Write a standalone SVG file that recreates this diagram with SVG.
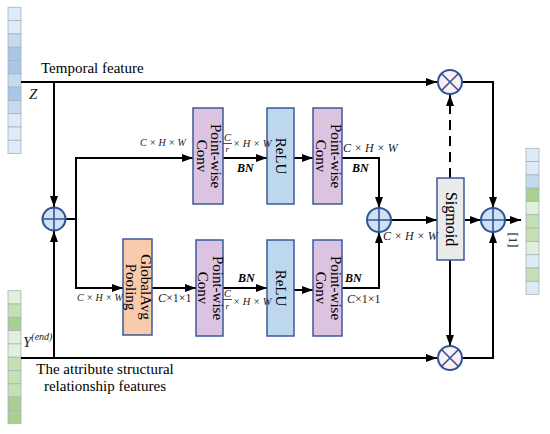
<svg xmlns="http://www.w3.org/2000/svg" width="550" height="434" viewBox="0 0 550 434" font-family="'Liberation Serif','Times New Roman','DejaVu Serif',serif">
<defs>
<marker id="ah" markerUnits="userSpaceOnUse" markerWidth="11" markerHeight="8" refX="11" refY="4" orient="auto"><path d="M0,0 L11,4 L0,8 z" fill="#000"/></marker>
<style>
.cell{stroke:#a9b4bf;stroke-width:0.8}
.b1{fill:#deebf7}.b2{fill:#c5d9ef}.b3{fill:#a8c7e7}
.g1{fill:#e2efda}.g2{fill:#c5e0b3}.g3{fill:#a9d08e}
.box{stroke:#3b5a99;stroke-width:1.5}
.pw{fill:#dcc3e1}.relu{fill:#bdd7ee}.pool{fill:#f8cbad}.sig{fill:#ebebeb}
.sum{fill:#cfe1f2;stroke:#2f5597;stroke-width:2}
.mul{fill:#fbeff3;stroke:#2f5597;stroke-width:2}
.sym{stroke:#2f5597;stroke-width:1.6;fill:none}
.ln{fill:none;stroke:#000;stroke-width:2}
text{font-family:'Liberation Serif','Times New Roman','DejaVu Serif',serif}
.t{fill:#000}
.bt{font-size:15px;fill:#000;text-anchor:middle}
.m{font-style:italic;fill:#222}
.bn{font-style:italic;font-weight:bold;font-size:12px;fill:#000}
</style>
</defs>

<!-- left input column Z -->
<g id="z-column">
<rect class="cell b1" x="8" y="7.3" width="13" height="13.3"/>
<rect class="cell b1" x="8" y="20.6" width="13" height="13.3"/>
<rect class="cell b2" x="8" y="33.9" width="13" height="13.3"/>
<rect class="cell b3" x="8" y="47.2" width="13" height="13.3"/>
<rect class="cell b3" x="8" y="60.5" width="13" height="13.3"/>
<rect class="cell b2" x="8" y="73.8" width="13" height="13.3"/>
<rect class="cell b3" x="8" y="87.1" width="13" height="13.3"/>
<rect class="cell b2" x="8" y="100.4" width="13" height="13.3"/>
<rect class="cell b1" x="8" y="113.7" width="13" height="13.3"/>
<rect class="cell b1" x="8" y="127" width="13" height="13.3"/>
<rect class="cell b1" x="8" y="140.3" width="13" height="13.3"/>
</g>

<!-- left input column Y -->
<g id="y-column">
<rect class="cell g1" x="8" y="290.7" width="13" height="13.3"/>
<rect class="cell g2" x="8" y="304" width="13" height="13.3"/>
<rect class="cell g3" x="8" y="317.3" width="13" height="13.3"/>
<rect class="cell g1" x="8" y="330.6" width="13" height="13.3"/>
<rect class="cell g1" x="8" y="343.9" width="13" height="13.3"/>
<rect class="cell g2" x="8" y="357.2" width="13" height="13.3"/>
<rect class="cell g2" x="8" y="370.5" width="13" height="13.3"/>
<rect class="cell g2" x="8" y="383.8" width="13" height="13.3"/>
<rect class="cell g3" x="8" y="397.1" width="13" height="13.3"/>
<rect class="cell g3" x="8" y="410.4" width="13" height="13.3"/>
</g>

<!-- output column -->
<g id="out-column">
<rect class="cell b1" x="526" y="148.3" width="13" height="13.3"/>
<rect class="cell b1" x="526" y="161.6" width="13" height="13.3"/>
<rect class="cell b2" x="526" y="174.9" width="13" height="13.3"/>
<rect class="cell g3" x="526" y="188.2" width="13" height="13.3"/>
<rect class="cell g1" x="526" y="201.5" width="13" height="13.3"/>
<rect class="cell g2" x="526" y="214.8" width="13" height="13.3"/>
<rect class="cell g2" x="526" y="228.1" width="13" height="13.3"/>
<rect class="cell g1" x="526" y="241.4" width="13" height="13.3"/>
<rect class="cell b1" x="526" y="254.7" width="13" height="13.3"/>
<rect class="cell g2" x="526" y="268" width="13" height="13.3"/>
<rect class="cell b1" x="526" y="281.3" width="13" height="13.3"/>
</g>

<!-- connectors -->
<g id="connectors">
<path class="ln" d="M21,82 H437" marker-end="url(#ah)"/>
<path class="ln" d="M54,82 V207" marker-end="url(#ah)"/>
<path class="ln" d="M21,358 H437" marker-end="url(#ah)"/>
<path class="ln" d="M54,358 V231" marker-end="url(#ah)"/>
<path class="ln" d="M66,219 H76"/>
<path class="ln" d="M76,157 V289"/>
<path class="ln" d="M75,158 H193" marker-end="url(#ah)"/>
<path class="ln" d="M75,288 H123" marker-end="url(#ah)"/>
<path class="ln" d="M223,158 H267" marker-end="url(#ah)"/>
<path class="ln" d="M294,158 H313" marker-end="url(#ah)"/>
<path class="ln" d="M342,158 H379 V208" marker-end="url(#ah)"/>
<path class="ln" d="M152,288 H196" marker-end="url(#ah)"/>
<path class="ln" d="M223,288 H267" marker-end="url(#ah)"/>
<path class="ln" d="M294,290 H313" marker-end="url(#ah)"/>
<path class="ln" d="M342,288 H379 V232" marker-end="url(#ah)"/>
<path class="ln" d="M391,220 H437" marker-end="url(#ah)"/>
<path class="ln" d="M465,220 H481" marker-end="url(#ah)"/>
<path class="ln" d="M450,178 V95" stroke-dasharray="10,6" marker-end="url(#ah)"/>
<path class="ln" d="M450,260 V346" marker-end="url(#ah)"/>
<path class="ln" d="M462,82 H493 V208" marker-end="url(#ah)"/>
<path class="ln" d="M462,358 H493 V232" marker-end="url(#ah)"/>
<path class="ln" d="M505,220 H521" marker-end="url(#ah)"/>
</g>

<!-- nodes -->
<g id="add-left">
<circle class="sum" cx="54" cy="219" r="11.5"/>
<path class="sym" d="M42.5,219 H65.5 M54,207.5 V230.5"/>
</g>
<g id="add-mid">
<circle class="sum" cx="379" cy="220" r="12"/>
<path class="sym" d="M367,220 H391 M379,208 V232"/>
</g>
<g id="add-out">
<circle class="sum" cx="493" cy="220" r="12"/>
<path class="sym" d="M481,220 H505 M493,208 V232"/>
</g>
<g id="mul-top">
<circle class="mul" cx="450" cy="82" r="12"/>
<path class="sym" d="M441.5,73.5 L458.5,90.5 M458.5,73.5 L441.5,90.5"/>
</g>
<g id="mul-bottom">
<circle class="mul" cx="450" cy="358" r="12"/>
<path class="sym" d="M441.5,349.5 L458.5,366.5 M458.5,349.5 L441.5,366.5"/>
</g>

<g id="pwconv-top1">
<rect class="box pw" x="193" y="108" width="30" height="96"/>
<g transform="translate(208,156) rotate(90)"><text class="bt" x="0" y="-3">Point-wise</text><text class="bt" x="0" y="11.5">Conv</text></g>
</g>
<g id="relu-top">
<rect class="box relu" x="267" y="108" width="27" height="96"/>
<g transform="translate(280.5,156) rotate(90)"><text class="bt" x="0" y="5">ReLU</text></g>
</g>
<g id="pwconv-top2">
<rect class="box pw" x="313" y="108" width="29" height="96"/>
<g transform="translate(327.5,156) rotate(90)"><text class="bt" x="0" y="-3">Point-wise</text><text class="bt" x="0" y="11.5">Conv</text></g>
</g>

<g id="pool">
<rect class="box pool" x="123" y="239" width="29" height="96"/>
<g transform="translate(137.5,287) rotate(90)"><text class="bt" x="0" y="-3">GlobalAvg</text><text class="bt" x="0" y="11.5">Pooling</text></g>
</g>
<g id="pwconv-bot1">
<rect class="box pw" x="196" y="240" width="27" height="96"/>
<g transform="translate(209.5,288) rotate(90)"><text class="bt" x="0" y="-3">Point-wise</text><text class="bt" x="0" y="11.5">Conv</text></g>
</g>
<g id="relu-bot">
<rect class="box relu" x="267" y="240" width="27" height="96"/>
<g transform="translate(280.5,288) rotate(90)"><text class="bt" x="0" y="5">ReLU</text></g>
</g>
<g id="pwconv-bot2">
<rect class="box pw" x="313" y="240" width="29" height="96"/>
<g transform="translate(327.5,288) rotate(90)"><text class="bt" x="0" y="-3">Point-wise</text><text class="bt" x="0" y="11.5">Conv</text></g>
</g>

<g id="sigmoid">
<rect class="box sig" x="437" y="178" width="27" height="82"/>
<g transform="translate(450.5,219) rotate(90)"><text class="bt" style="font-size:16px" x="0" y="5">Sigmoid</text></g>
</g>

<!-- labels -->
<g id="labels">
<text class="t" x="41" y="73" font-size="15">Temporal feature</text>
<text class="m" x="29" y="99" font-size="15">Z</text>
<text class="m" x="23" y="347" font-size="15">Y<tspan font-size="10" dy="-7">(end)</tspan></text>
<text class="t" x="105" y="374" font-size="15" text-anchor="middle">The attribute structural</text>
<text class="t" x="105" y="391" font-size="15" text-anchor="middle">relationship features</text>

<text class="m" x="140" y="146" font-size="10">C × H × W</text>
<text class="m" x="224" y="141" font-size="10.5">C</text>
<line x1="223" y1="143.5" x2="232" y2="143.5" stroke="#222" stroke-width="0.8"/>
<text class="m" x="225.5" y="152" font-size="9">r</text>
<text class="m" x="233" y="147" font-size="10.5">× H × W</text>
<text class="bn" x="237" y="172">BN</text>
<text class="m" x="343" y="152" font-size="12">C × H × W</text>
<text class="bn" x="352" y="172">BN</text>
<text class="m" x="383" y="240" font-size="12">C × H × W</text>

<text class="m" x="77" y="301" font-size="10">C × H × W</text>
<text class="m" x="158" y="302" font-size="12">C<tspan font-style="normal">×1×1</tspan></text>
<text class="bn" x="238" y="282">BN</text>
<text class="m" x="224" y="297" font-size="10.5">C</text>
<line x1="223" y1="299.5" x2="232" y2="299.5" stroke="#222" stroke-width="0.8"/>
<text class="m" x="225.5" y="309" font-size="9">r</text>
<text class="m" x="233" y="305" font-size="10.5">× H × W</text>
<text class="bn" x="345" y="282">BN</text>
<text class="m" x="347" y="303" font-size="12">C<tspan font-style="normal">×1×1</tspan></text>

<g transform="translate(513,240) rotate(90)"><text class="t" x="0" y="4.5" font-size="13" text-anchor="middle">[1]</text></g>
</g>
</svg>
